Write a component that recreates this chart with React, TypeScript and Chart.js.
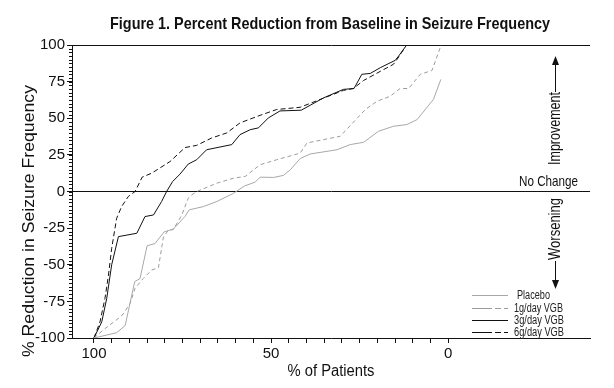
import React, { useEffect, useRef } from "react";
import { Chart, registerables } from "chart.js";

Chart.register(...registerables);

const titleText = "Figure 1. Percent Reduction from Baseline in Seizure Frequency";
const xAxisTitle = "% of Patients";
const yAxisTitle = "% Reduction in Seizure Frequency";
const xTickLabels = [100, 50, 0];
const yTickStep = 25;

const seriesNames = ["Placebo", "1g/day VGB", "3g/day VGB", "6g/day VGB"];

const placeboPct = [100, 93.6, 91.2, 88.5, 87, 85, 82.8, 80.2, 77.6, 74.3, 73.1, 69.1, 65.3, 60.6, 57.5, 54.5, 53.1, 49.3, 46.5, 44.6, 41.8, 39, 31.4, 27.7, 23.9, 19.7, 15.5, 11.7, 8.8, 4.2, 2.1];
const placeboVal = [-100, -96.4, -91.5, -61.5, -59.4, -37, -35.6, -27.6, -25.6, -17, -12.5, -10.3, -6.8, -1.2, 3.8, 6.4, 9.8, 9.6, 11, 14.8, 22.5, 25.6, 28.5, 32, 33.6, 41.1, 44.5, 45.7, 49.1, 62.8, 76.5];

const g1Pct = [100, 96.9, 92.2, 89.8, 88.4, 86.1, 83.7, 81.8, 80.4, 79, 77.6, 75.2, 73.4, 72.4, 71, 65.3, 60.6, 57.3, 53.1, 48.4, 41.8, 39.9, 30.5, 23.4, 20.1, 16.4, 13.6, 11.2, 7.9, 4.6, 2.3, 1.5];
const g1Val = [-100, -93.6, -85, -76.5, -66, -59.4, -53.6, -52, -31, -26.5, -26, -16, -4.6, -2.3, 0, 5.7, 9.1, 10.3, 18.3, 21.7, 26.2, 33.1, 37.7, 56, 61.6, 65, 70.3, 70.3, 80, 82.6, 98, 104];

const g3Pct = [100, 97.8, 96.4, 95, 93.1, 87.9, 85.6, 83.2, 80.9, 79.5, 77.8, 75.7, 73.4, 71, 68.2, 61.1, 58.8, 55.9, 53.6, 50.8, 47.5, 41.5, 35.2, 29.6, 26.6, 24.4, 22, 19.2, 15, 14, 12.1, 11];
const g3Val = [-100, -89, -73, -50, -30.8, -28.5, -17.1, -16, -6.8, 0, 6.8, 11.9, 18.7, 21.7, 28.5, 32, 38.8, 42.2, 43.4, 50.2, 55, 55.5, 63.9, 69.7, 70.3, 80, 80.6, 84.5, 89.5, 92.5, 98.8, 104];

const g6Pct = [100, 98.3, 96.9, 95.9, 95, 93.6, 92.2, 90.3, 88.4, 87, 86.4, 83.7, 78.5, 74.3, 71, 66.8, 62.5, 58.8, 53.1, 48.4, 45.6, 41.8, 36.2, 29.6, 26.8, 23.9, 19.2, 15.5, 14.5, 12.1, 11];
const g6Val = [-100, -89, -73, -57, -38.8, -18.3, -10.3, -3.4, 0, 6.8, 9.8, 12.5, 20.5, 30, 31.5, 36.5, 40, 46.8, 52, 56, 56.6, 57.5, 62.8, 69, 70.3, 75.8, 82, 86.8, 90, 98.8, 104];

const REG = '"Liberation Sans", Arial, Helvetica, sans-serif';

const toPoints = (xs: number[], ys: number[]) => xs.map((x, i) => ({ x, y: ys[i] }));

const styles = [
  { color: "#a8a8a8", dash: [] as number[] },
  { color: "#9c9c9c", dash: [4, 3] },
  { color: "#111111", dash: [] as number[] },
  { color: "#111111", dash: [5, 3] },
];

// draw text horizontally condensed to a given width (condensed-face look)
function fitText(
  ctx: CanvasRenderingContext2D,
  text: string,
  x: number,
  y: number,
  font: string,
  width: number,
  align: "left" | "center",
  rotate = false
) {
  ctx.save();
  ctx.font = font;
  ctx.textAlign = "left";
  ctx.textBaseline = "middle";
  const w = ctx.measureText(text).width;
  ctx.translate(x, y);
  if (rotate) ctx.rotate(-Math.PI / 2);
  ctx.scale(width / w, 1);
  ctx.fillText(text, align === "center" ? -w / 2 : 0, 0);
  ctx.restore();
}

const annotPlugin = {
  id: "annot",
  afterDraw(chart: any) {
    const ctx = chart.ctx as CanvasRenderingContext2D;
    const area = chart.chartArea;
    const y = chart.scales.y;
    const cx = (area.left + area.right) / 2;
    ctx.save();
    ctx.fillStyle = "#111";
    ctx.strokeStyle = "#111";
    // title
    fitText(ctx, titleText, cx - 1, 24, "bold 17px " + REG, 440, "center");
    // y-axis title
    fitText(ctx, yAxisTitle, 29, 221, "17px " + REG, 272, "center", true);
    // x-axis title
    fitText(ctx, xAxisTitle, cx, 372, "16px " + REG, 87, "center");
    // minor y ticks
    ctx.lineWidth = 1;
    ctx.beginPath();
    for (let v = -100; v <= 100.001; v += 2.5) {
      const py = Math.round(y.getPixelForValue(v)) + 0.5;
      ctx.moveTo(area.left - 3, py);
      ctx.lineTo(area.left, py);
    }
    ctx.stroke();
    // annotations
    const ax = 555;
    fitText(ctx, "Improvement", ax + 1, 128.5, "16px " + REG, 73, "center", true);
    fitText(ctx, "Worsening", ax + 1, 229, "16px " + REG, 62, "center", true);
    ctx.beginPath();
    ctx.moveTo(ax + 0.5, 92);
    ctx.lineTo(ax + 0.5, 63);
    ctx.moveTo(ax + 0.5, 261);
    ctx.lineTo(ax + 0.5, 282);
    ctx.stroke();
    ctx.beginPath();
    ctx.moveTo(ax + 0.5, 56);
    ctx.lineTo(ax + 4, 65);
    ctx.lineTo(ax - 3, 65);
    ctx.closePath();
    ctx.fill();
    ctx.beginPath();
    ctx.moveTo(ax + 0.5, 289);
    ctx.lineTo(ax + 4, 280);
    ctx.lineTo(ax - 3, 280);
    ctx.closePath();
    ctx.fill();
    fitText(ctx, "No Change", 548.5, 182, "15px " + REG, 59, "center");
    // legend
    const rows = [295, 307.5, 320, 332];
    const widths = [33, 49, 50, 50];
    chart.data.datasets.forEach((ds: any, i: number) => {
      const ry = Math.round(rows[i]) + 0.5;
      ctx.save();
      ctx.strokeStyle = ds.borderColor;
      ctx.setLineDash(ds.legendDash || []);
      ctx.lineWidth = 1;
      ctx.beginPath();
      ctx.moveTo(472, ry);
      ctx.lineTo(508, ry);
      ctx.stroke();
      ctx.restore();
      ctx.fillStyle = "#222";
      fitText(ctx, ds.label, i === 0 ? 517 : 514, ry, "12px " + REG, widths[i], "left");
    });
    ctx.restore();
  },
};

export default function App() {
  const ref = useRef<HTMLCanvasElement | null>(null);
  useEffect(() => {
    if (!ref.current) return;
    const series = [
      [placeboPct, placeboVal],
      [g1Pct, g1Val],
      [g3Pct, g3Val],
      [g6Pct, g6Val],
    ];
    const chart = new Chart(ref.current, {
      type: "line",
      data: {
        datasets: series.map((s, i) => ({
          label: seriesNames[i],
          data: toPoints(s[0], s[1]),
          borderColor: styles[i].color,
          borderDash: styles[i].dash,
          legendDash: i === 1 || i === 3 ? [20, 3, 6, 3, 6, 3] : [],
          borderWidth: 1,
          pointRadius: 0,
          tension: 0,
          fill: false,
        })) as any,
      },
      options: {
        animation: false,
        responsive: false,
        layout: { padding: { left: 0, right: 24, top: 45, bottom: 0 } },
        plugins: { legend: { display: false }, title: { display: false }, tooltip: { enabled: false } },
        scales: {
          x: {
            type: "linear",
            reverse: true,
            min: -40,
            max: 106.2,
            afterFit: (s: any) => { s.height = 50; },
            afterBuildTicks: (s: any) => {
              const t = [];
              for (let v = 0; v <= 100; v += 5) t.push({ value: v });
              s.ticks = t;
            },
            ticks: {
              includeBounds: false,
              autoSkip: false,
              maxRotation: 0,
              padding: 2,
              color: "#111",
              font: { family: REG, size: 15 },
              callback: (v: any) => (xTickLabels.includes(Number(v)) ? String(v) : ""),
            },
            grid: { drawOnChartArea: false, tickLength: 5, color: "#111", tickColor: "#111" },
            border: { display: true, color: "#111", width: 1 },
          },
          y: {
            type: "linear",
            min: -100,
            max: 100,
            afterFit: (s: any) => { s.width = 72; },
            ticks: {
              stepSize: yTickStep,
              padding: 2,
              color: "#111",
              font: { family: REG, size: 15 },
            },
            grid: {
              drawOnChartArea: true,
              tickLength: 5,
              tickColor: "#111",
              color: (c: any) => (c.tick && (c.tick.value === 0 || c.tick.value === 100) ? "#111" : "rgba(0,0,0,0)"),
            },
            border: { display: true, color: "#111", width: 1 },
          },
        },
      },
      plugins: [annotPlugin],
    } as any);
    return () => chart.destroy();
  }, []);
  return (
    <div style={{ position: "fixed", left: 0, top: 0, width: 614, height: 388, background: "#fff" }}>
      <canvas ref={ref} width={614} height={388} style={{ width: 614, height: 388 }} />
    </div>
  );
}
